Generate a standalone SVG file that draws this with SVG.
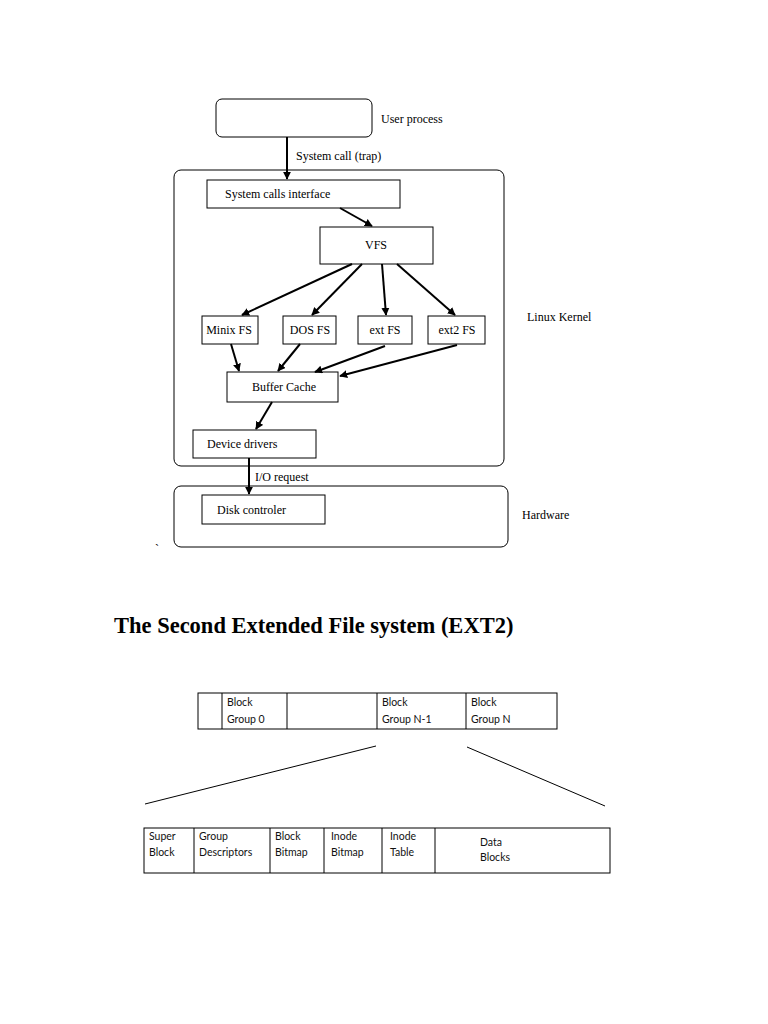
<svg xmlns="http://www.w3.org/2000/svg" width="768" height="1024" viewBox="0 0 768 1024">
<defs>
<marker id="ah" viewBox="0 0 10 10" refX="9" refY="5" markerWidth="4" markerHeight="4" orient="auto" markerUnits="strokeWidth">
<path d="M0,0 L10,5 L0,10 z" fill="#000"/>
</marker>
</defs>
<style>
.box{fill:#fff;stroke:#000;stroke-width:1}
.cont{fill:none;stroke:#000;stroke-width:1}
.t{font-family:"Liberation Serif",serif;font-size:12px;fill:#000}
.tc{font-family:"Liberation Serif",serif;font-size:12px;fill:#000;text-anchor:middle}
.arr{stroke:#000;stroke-width:2;fill:none;marker-end:url(#ah)}
.ln{stroke:#000;stroke-width:1;fill:none}
.s{font-family:Lato,"Open Sans",sans-serif;font-size:10.5px;fill:#111}
.title{font-family:"Liberation Serif",serif;font-size:22.5px;font-weight:bold;fill:#000}
</style>
<rect width="768" height="1024" fill="#fff"/>

<g id="user-process">
<rect class="box" x="216" y="99" width="156" height="38" rx="6"/>
<text class="t" x="381" y="123">User process</text>
</g>
<g id="linux-kernel">
<rect class="cont" x="174" y="170" width="330" height="296" rx="7"/>
<text class="t" x="527" y="321">Linux Kernel</text>
</g>
<g id="hardware">
<rect class="cont" x="174" y="486" width="334" height="61" rx="7"/>
<text class="t" x="522" y="519">Hardware</text>
</g>
<g id="syscalls">
<rect class="box" x="207" y="180" width="193" height="28"/>
<text class="t" x="225" y="198">System calls interface</text>
</g>
<g id="vfs">
<rect class="box" x="320" y="227" width="113" height="37"/>
<text class="tc" x="376" y="249">VFS</text>
</g>
<g id="minix">
<rect class="box" x="202" y="316" width="56" height="28"/>
<text class="tc" x="229" y="334">Minix FS</text>
</g>
<g id="dos">
<rect class="box" x="283" y="316" width="53" height="28"/>
<text class="tc" x="310" y="334">DOS FS</text>
</g>
<g id="ext">
<rect class="box" x="358" y="316" width="54" height="28"/>
<text class="tc" x="385" y="334">ext FS</text>
</g>
<g id="ext2">
<rect class="box" x="428" y="316" width="57" height="28"/>
<text class="tc" x="457" y="334">ext2 FS</text>
</g>
<g id="buffer-cache">
<rect class="box" x="227" y="372" width="111" height="30"/>
<text class="tc" x="284" y="391">Buffer Cache</text>
</g>
<g id="device-drivers">
<rect class="box" x="193" y="430" width="123" height="28"/>
<text class="t" x="207" y="448">Device drivers</text>
</g>
<g id="disk-controler">
<rect class="box" x="202" y="495" width="123" height="29"/>
<text class="t" x="217" y="514">Disk controler</text>
</g>

<g id="connectors">
<line class="arr" x1="287" y1="137" x2="287" y2="179"/>
<line class="arr" x1="340" y1="208" x2="372" y2="226"/>
<line class="arr" x1="352" y1="264" x2="242" y2="315"/>
<line class="arr" x1="362" y1="264" x2="312" y2="315"/>
<line class="arr" x1="382" y1="264" x2="386" y2="315"/>
<line class="arr" x1="397" y1="264" x2="455" y2="315"/>
<line class="arr" x1="231" y1="344" x2="239" y2="371"/>
<line class="arr" x1="300" y1="344" x2="278" y2="371"/>
<line class="arr" x1="385" y1="346" x2="315" y2="372"/>
<line class="arr" x1="457" y1="345" x2="340" y2="376"/>
<line class="arr" x1="272" y1="402" x2="256" y2="429"/>
<line class="arr" x1="249" y1="458" x2="249" y2="494"/>
<text class="t" x="296" y="160">System call (trap)</text>
<text class="t" x="255" y="481">I/O request</text>
</g>
<text class="t" x="155" y="553">`</text>

<text class="title" x="114" y="633">The Second Extended File system (EXT2)</text>

<g id="block-groups">
<rect class="box" x="198" y="693" width="359" height="36"/>
<line class="ln" x1="222" y1="693" x2="222" y2="729"/>
<line class="ln" x1="287" y1="693" x2="287" y2="729"/>
<line class="ln" x1="377" y1="693" x2="377" y2="729"/>
<line class="ln" x1="466" y1="693" x2="466" y2="729"/>
<text class="s" x="227" y="706">Block</text>
<text class="s" x="227" y="723">Group 0</text>
<text class="s" x="382" y="706">Block</text>
<text class="s" x="382" y="723">Group N-1</text>
<text class="s" x="471" y="706">Block</text>
<text class="s" x="471" y="723">Group N</text>
</g>
<g id="zoom-lines">
<line class="ln" x1="376" y1="746" x2="145" y2="804"/>
<line class="ln" x1="467" y1="747" x2="605" y2="806"/>
</g>
<g id="group-layout">
<rect class="box" x="144" y="828" width="466" height="45"/>
<line class="ln" x1="194" y1="828" x2="194" y2="873"/>
<line class="ln" x1="270" y1="828" x2="270" y2="873"/>
<line class="ln" x1="324" y1="828" x2="324" y2="873"/>
<line class="ln" x1="382" y1="828" x2="382" y2="873"/>
<line class="ln" x1="435" y1="828" x2="435" y2="873"/>
<text class="s" x="149" y="840">Super</text>
<text class="s" x="149" y="856">Block</text>
<text class="s" x="199" y="840">Group</text>
<text class="s" x="199" y="856">Descriptors</text>
<text class="s" x="275" y="840">Block</text>
<text class="s" x="275" y="856">Bitmap</text>
<text class="s" x="331" y="840">Inode</text>
<text class="s" x="331" y="856">Bitmap</text>
<text class="s" x="390" y="840">Inode</text>
<text class="s" x="390" y="856">Table</text>
<text class="s" x="480" y="846">Data</text>
<text class="s" x="480" y="861">Blocks</text>
</g>
</svg>
